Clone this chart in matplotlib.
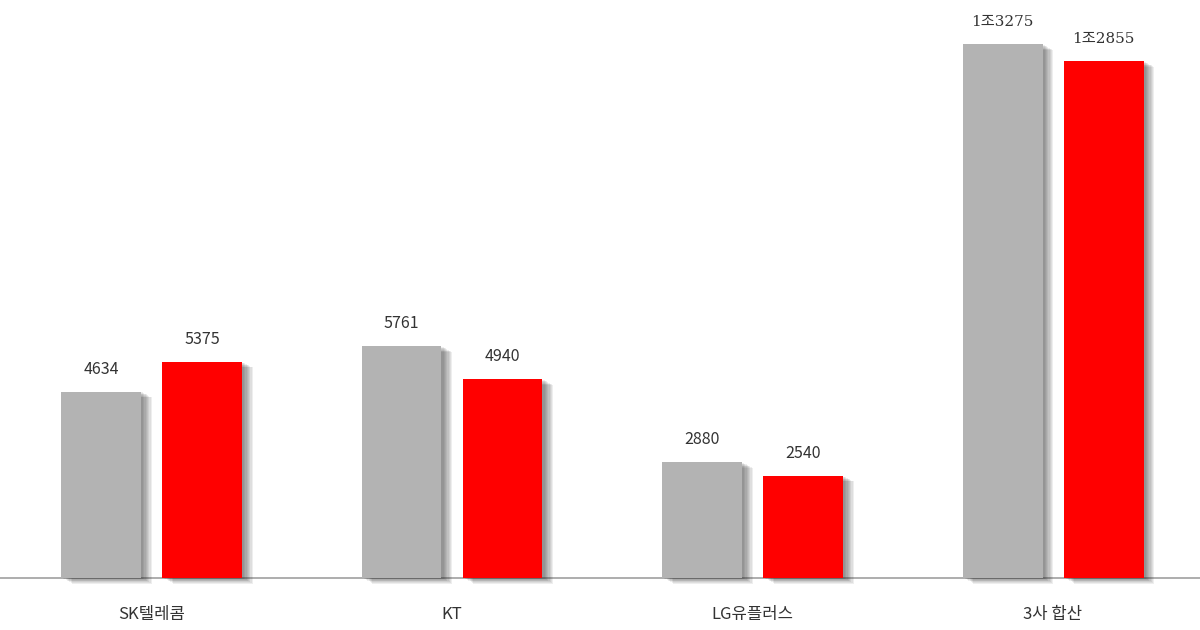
import matplotlib
matplotlib.use("Agg")
import matplotlib.pyplot as plt
import matplotlib.patheffects as pe
import numpy as np

plt.rcParams['font.family'] = ['Noto Sans CJK KR', 'DejaVu Sans']

# 데이터
categories = ["SK텔레콤", "KT", "LG유플러스", "3사 합산"]
prev_values = [4634, 5761, 2880, 13275]
curr_values = [5375, 4940, 2540, 12855]
prev_labels = ["4634", "5761", "2880", "1조3275"]
curr_labels = ["5375", "4940", "2540", "1조2855"]

fig = plt.figure(figsize=(12, 6.3), dpi=100)
ax = fig.add_axes([0, 0, 1, 1])

x = np.arange(len(categories))
w = 0.266
off = 0.168

# 흐린 그림자 흉내: 여러 겹의 반투명 그림자
shadow = [pe.SimplePatchShadow(offset=(1.5 + 0.9 * k, -0.5 - 0.5 * k), shadow_rgbFace='#202020', alpha=0.075)
          for k in range(8)]
effects = shadow + [pe.Normal()]

b1 = ax.bar(x - off, prev_values, width=w, color='#b3b3b3', zorder=3)
b2 = ax.bar(x + off, curr_values, width=w, color='#ff0000', zorder=3)
for b in list(b1) + list(b2):
    b.set_path_effects(effects)

ax.axhline(0, color='#a0a0a0', lw=1.2, zorder=2)

for i in range(len(categories)):
    kw = dict(ha='center', va='center', fontsize=11.5, color='#333333', zorder=4)
    if i == 3:
        kw['family'] = ['DejaVu Serif', 'Noto Sans CJK KR']
        kw['fontsize'] = 11
    ax.text(x[i] - off, prev_values[i] + 560, prev_labels[i], **kw)
    ax.text(x[i] + off, curr_values[i] + 560, curr_labels[i], **kw)
    ax.text(x[i], -920, categories[i], ha='center', va='center', fontsize=12, color='#333333')

ax.set_xlim(-0.504, 3.489)
ax.set_ylim(-1294, 14378)
ax.axis('off')

fig.savefig("out.png", dpi=100)
